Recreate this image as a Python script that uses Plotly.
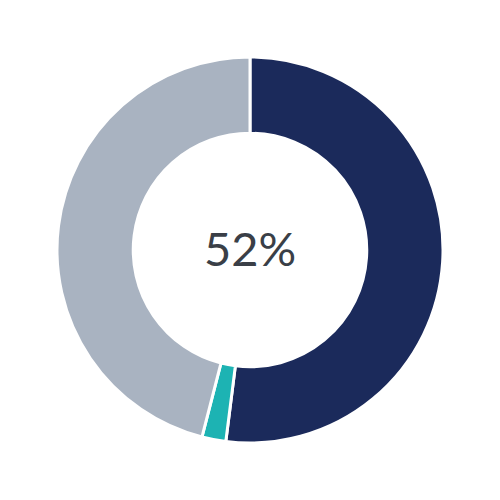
import plotly.graph_objects as go

labels = ["A", "B", "C"]
values = [52, 2, 46]
colors = ["#1b2a5b", "#1db3b3", "#a9b3c1"]
center_text = "52%"

fig = go.Figure(go.Pie(
    labels=labels,
    values=values,
    hole=0.605,
    sort=False,
    direction="clockwise",
    rotation=0,
    textinfo="none",
    hoverinfo="label+percent",
    marker=dict(colors=colors, line=dict(color="white", width=3)),
))

fig.add_annotation(
    text=center_text, x=0.5, y=0.505, xref="paper", yref="paper",
    showarrow=False,
    font=dict(family="Lato", size=47, color="#3a3f47"),
)

# page has 8px body margin, so shift everything up-left
fig.update_layout(
    width=500, height=500,
    margin=dict(l=49, r=65, t=49, b=65),
    showlegend=False,
    paper_bgcolor="white",
    plot_bgcolor="white",
)

fig.write_html("out.html")
